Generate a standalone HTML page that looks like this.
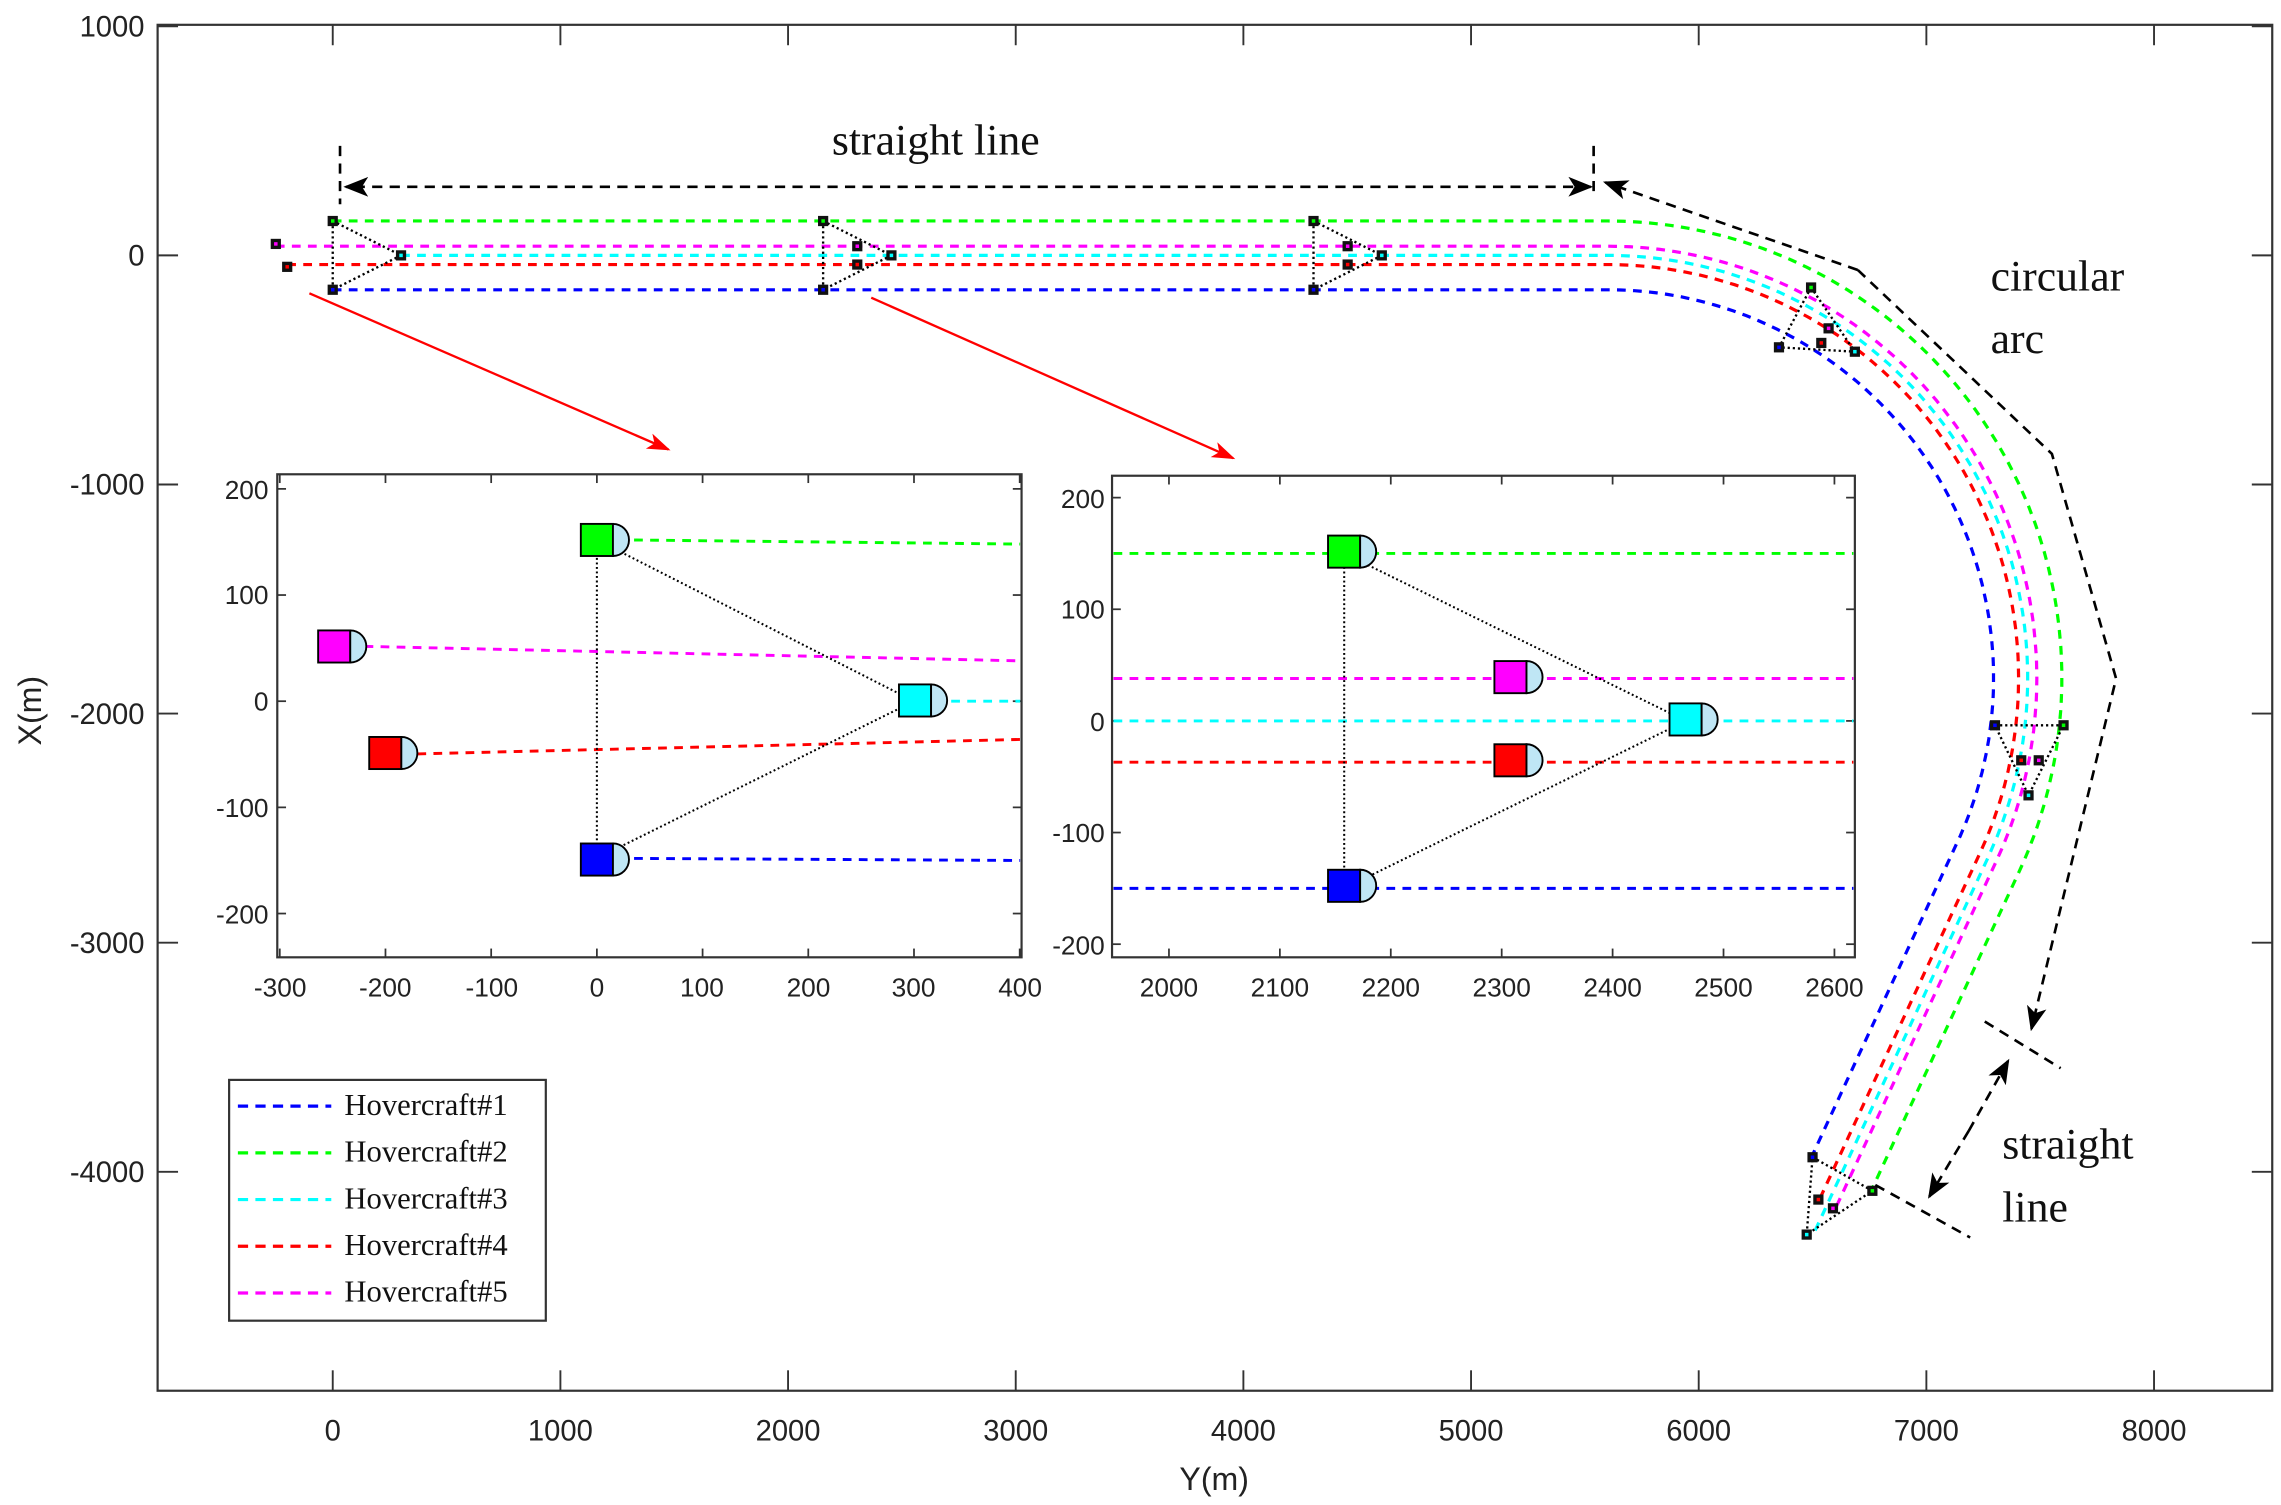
<!DOCTYPE html>
<html><head><meta charset="utf-8"><style>
html,body{margin:0;padding:0;background:#fff;}
svg{display:block;}
.t{font-family:"Liberation Sans",Arial,sans-serif;fill:#222;}
.s{font-family:"Liberation Serif",serif;fill:#111;}
</style></head><body>
<svg id="s" width="2281" height="1505" viewBox="0 0 1563 1031.3" preserveAspectRatio="none" xmlns="http://www.w3.org/2000/svg">
<defs>
<clipPath id="cm"><rect x="108" y="17" width="1449" height="936"/></clipPath>
<marker id="ah" viewBox="0 0 20 20" refX="18" refY="10" markerWidth="17" markerHeight="17" orient="auto-start-reverse" markerUnits="userSpaceOnUse">
<path d="M0,2 L20,10 L0,18 L5,10 Z" fill="#000"/></marker>
<marker id="ra" viewBox="0 0 20 20" refX="18" refY="10" markerWidth="16" markerHeight="16" orient="auto" markerUnits="userSpaceOnUse">
<path d="M0,3 L20,10 L0,17 L5,10 Z" fill="#f00"/></marker>
</defs>
<rect x="108" y="17" width="1449" height="936" fill="#fff" stroke="#333" stroke-width="1.5"/>
<g id="mainticks" stroke="#333" stroke-width="1.3"></g>
<g id="main" clip-path="url(#cm)"></g>
<g id="ann" fill="none" stroke="#000" stroke-width="1.8" stroke-dasharray="7,5">
<line x1="233" y1="100" x2="233" y2="140"/>
<line x1="1092" y1="100" x2="1092" y2="136"/>
<line x1="1090" y1="128" x2="237" y2="128" marker-end="url(#ah)" marker-start="url(#ah)"/>
<polyline points="1273,185 1406,311 1450,465 1392,705" marker-end="url(#ah)"/>
<line x1="1273" y1="185" x2="1100" y2="125" marker-end="url(#ah)"/>
<line x1="1360" y1="700" x2="1412" y2="732"/>
<line x1="1349" y1="775" x2="1376" y2="727" marker-end="url(#ah)"/>
<line x1="1349" y1="775" x2="1322" y2="820" marker-end="url(#ah)"/>
<line x1="1285" y1="812" x2="1350" y2="848"/>
</g>
<line x1="212" y1="201" x2="458" y2="308" stroke="#f00" stroke-width="1.6" marker-end="url(#ra)"/>
<line x1="597" y1="204" x2="845" y2="314" stroke="#f00" stroke-width="1.6" marker-end="url(#ra)"/>
<text class="s" x="570" y="106" font-size="30">straight  line</text>
<text class="s" x="1364" y="199" font-size="30">circular</text>
<text class="s" x="1364" y="242" font-size="30">arc</text>
<text class="s" x="1372" y="794" font-size="30">straight</text>
<text class="s" x="1372" y="837" font-size="30">line</text>
<g class="t" font-size="20" text-anchor="middle">
<text x="228" y="987">0</text><text x="384" y="987">1000</text><text x="540" y="987">2000</text><text x="696" y="987">3000</text><text x="852" y="987">4000</text><text x="1008" y="987">5000</text><text x="1164" y="987">6000</text><text x="1320" y="987">7000</text><text x="1476" y="987">8000</text>
</g>
<g class="t" font-size="20" text-anchor="end">
<text x="99" y="25">1000</text><text x="99" y="182">0</text><text x="99" y="339">-1000</text><text x="99" y="496">-2000</text><text x="99" y="653">-3000</text><text x="99" y="810">-4000</text>
</g>
<text class="t" x="832" y="1021" font-size="22" text-anchor="middle">Y(m)</text>
<text class="t" x="0" y="0" font-size="22" text-anchor="middle" transform="translate(28,487) rotate(-90)">X(m)</text>
<g>
<rect x="157" y="740" width="217" height="165" fill="#fff" stroke="#333" stroke-width="1.5"/>
<g stroke-width="2.2" stroke-dasharray="7,5">
<line x1="163" y1="758" x2="227" y2="758" stroke="#00f"/>
<line x1="163" y1="790" x2="227" y2="790" stroke="#0f0"/>
<line x1="163" y1="822" x2="227" y2="822" stroke="#0ff"/>
<line x1="163" y1="854" x2="227" y2="854" stroke="#f00"/>
<line x1="163" y1="886" x2="227" y2="886" stroke="#f0f"/>
</g>
<g class="s" font-size="21">
<text x="236" y="764">Hovercraft#1</text><text x="236" y="796">Hovercraft#2</text><text x="236" y="828">Hovercraft#3</text><text x="236" y="860">Hovercraft#4</text><text x="236" y="892">Hovercraft#5</text>
</g></g>
<rect x="190" y="325" width="510" height="331" fill="#fff" stroke="#333" stroke-width="1.5"/>
<rect x="762" y="326" width="509" height="330" fill="#fff" stroke="#333" stroke-width="1.5"/>
<g id="ins"></g>
<g class="t" font-size="18" text-anchor="middle">
<text x="192" y="683">-300</text><text x="264" y="683">-200</text><text x="337" y="683">-100</text><text x="409" y="683">0</text><text x="481" y="683">100</text><text x="554" y="683">200</text><text x="626" y="683">300</text><text x="699" y="683">400</text>
<text x="801" y="683">2000</text><text x="877" y="683">2100</text><text x="953" y="683">2200</text><text x="1029" y="683">2300</text><text x="1105" y="683">2400</text><text x="1181" y="683">2500</text><text x="1257" y="683">2600</text>
</g>
<g class="t" font-size="18" text-anchor="end">
<text x="184" y="342">200</text><text x="184" y="414">100</text><text x="184" y="487">0</text><text x="184" y="560">-100</text><text x="184" y="633">-200</text>
<text x="757" y="348">200</text><text x="757" y="424">100</text><text x="757" y="501">0</text><text x="757" y="577">-100</text><text x="757" y="654">-200</text>
</g>
</svg>
<script>
const NS="http://www.w3.org/2000/svg";
function el(p,t,a){const e=document.createElementNS(NS,t);for(const k in a)e.setAttribute(k,a[k]);p.appendChild(e);return e;}
const M=document.getElementById('main'),T=document.getElementById('mainticks'),I=document.getElementById('ins');
const px=Y=>228+Y*0.156, py=X=>175-X*0.157;
for(let v=0;v<=8000;v+=1000){el(T,'line',{x1:px(v),y1:953,x2:px(v),y2:939});el(T,'line',{x1:px(v),y1:17,x2:px(v),y2:31});}
for(let v=1000;v>=-4000;v-=1000){el(T,'line',{x1:108,y1:py(v),x2:122,y2:py(v)});el(T,'line',{x1:1557,y1:py(v),x2:1543,y2:py(v)});}
const C=[5600,-1845],R0=1845,phiE=115*Math.PI/180,u=[Math.cos(phiE),-Math.sin(phiE)];
const S=[[150,'#0f0',0,1536],[40,'#f0f',-250,1678],[0,'#0ff',300,1830],[-40,'#f00',-200,1676],[-150,'#00f',0,1515]];
for(const [d,c,st,L] of S){
 const R=R0+d;let pts=[[st,d],[5600,d]];
 for(let a=1;a<=115;a++){const f=a*Math.PI/180;pts.push([C[0]+R*Math.sin(f),C[1]+R*Math.cos(f)]);}
 const tp=pts[pts.length-1];pts.push([tp[0]+L*u[0],tp[1]+L*u[1]]);
 el(M,'polyline',{points:pts.map(p=>px(p[0]).toFixed(1)+','+py(p[1]).toFixed(1)).join(' '),fill:'none',stroke:c,'stroke-width':2.2,'stroke-dasharray':'6,5'});
}
const dot={stroke:'#000','stroke-width':1.6,'stroke-dasharray':'1.5,2',fill:'none'};
function fm(pts,tri){
 el(M,'polygon',Object.assign({points:tri.map(i=>pts[i][0]+','+pts[i][1]).join(' ')},dot));
 for(const p of pts){el(M,'rect',{x:p[0]-3.5,y:p[1]-3.5,width:7,height:7,fill:'#111'});el(M,'rect',{x:p[0]-1.2,y:p[1]-1.2,width:2.4,height:2.4,fill:p[2]});}
}
for(const Y0 of [0,2154,4308]){
 const g=[px(Y0),py(150),'#0f0'],b=[px(Y0),py(-150),'#00f'],cy=[px(Y0+300),py(0),'#0ff'];
 const m=Y0==0?[px(-250),py(50),'#f0f']:[px(Y0+150),py(40),'#f0f'],r=Y0==0?[px(-200),py(-50),'#f00']:[px(Y0+150),py(-40),'#f00'];
 fm([g,b,cy,m,r],[0,1,2]);
}
fm([[1241,197,'#0f0'],[1219,238,'#00f'],[1271,241,'#0ff'],[1253,225,'#f0f'],[1248,235,'#f00']],[0,1,2]);
fm([[1414,497,'#0f0'],[1367,497,'#00f'],[1390,545,'#0ff'],[1397,521,'#f0f'],[1385,521,'#f00']],[0,1,2]);
fm([[1283,816,'#0f0'],[1242,793,'#00f'],[1238,846,'#0ff'],[1256,828,'#f0f'],[1246,822,'#f00']],[0,1,2]);
const i1x=x=>409+x*0.7243,i1y=y=>480.5-y*0.7275,i2x=x=>801+(x-2000)*0.76,i2y=y=>494-y*0.765;
const tk={stroke:'#333','stroke-width':1.2};
for(let v=-300;v<=400;v+=100){el(I,'line',Object.assign({x1:i1x(v),y1:656,x2:i1x(v),y2:650},tk));el(I,'line',Object.assign({x1:i1x(v),y1:325,x2:i1x(v),y2:331},tk));}
for(let v=-200;v<=200;v+=100){el(I,'line',Object.assign({x1:190,y1:i1y(v),x2:196,y2:i1y(v)},tk));el(I,'line',Object.assign({x1:700,y1:i1y(v),x2:694,y2:i1y(v)},tk));}
for(let v=2000;v<=2600;v+=100){el(I,'line',Object.assign({x1:i2x(v),y1:656,x2:i2x(v),y2:650},tk));el(I,'line',Object.assign({x1:i2x(v),y1:326,x2:i2x(v),y2:332},tk));}
for(let v=-200;v<=200;v+=100){el(I,'line',Object.assign({x1:762,y1:i2y(v),x2:768,y2:i2y(v)},tk));el(I,'line',Object.assign({x1:1271,y1:i2y(v),x2:1265,y2:i2y(v)},tk));}
const dl=(x1,y1,x2,y2,c)=>el(I,'line',{x1,y1,x2,y2,stroke:c,'stroke-width':2,'stroke-dasharray':'6,5'});
dl(i1x(20),i1y(152),699,i1y(148),'#0f0');dl(i1x(-235),i1y(52),699,i1y(38),'#f0f');dl(i1x(320),i1y(0),699,i1y(0),'#0ff');dl(i1x(-185),i1y(-50),699,i1y(-36),'#f00');dl(i1x(20),i1y(-148),699,i1y(-150),'#00f');
for(const [y,c] of [[150,'#0f0'],[38,'#f0f'],[0,'#0ff'],[-37,'#f00'],[-150,'#00f']])dl(763,i2y(y),1270,i2y(y),c);
const dt={stroke:'#000','stroke-width':1.4,'stroke-dasharray':'1.3,1.8',fill:'none'};
el(I,'polygon',Object.assign({points:`${i1x(0)},${i1y(152)} ${i1x(0)},${i1y(-148)} ${i1x(300)},${i1y(0)}`},dt));
el(I,'polygon',Object.assign({points:`${i2x(2158)},${i2y(150)} ${i2x(2158)},${i2y(-150)} ${i2x(2466)},${i2y(0)}`},dt));
function icon(cx,cy,c){el(I,'rect',{x:cx-11,y:cy-11,width:22,height:22,fill:c,stroke:'#000','stroke-width':1.3});
 el(I,'path',{d:`M${cx+11},${cy-11} A11,11 0 0 1 ${cx+11},${cy+11} Z`,fill:'#bfe6f5',stroke:'#000','stroke-width':1.3});}
icon(409,370,'#0f0');icon(409,589,'#00f');icon(229,443,'#f0f');icon(264,516,'#f00');icon(627,480,'#0ff');
icon(921,378,'#0f0');icon(921,607,'#00f');icon(1035,464,'#f0f');icon(1035,521,'#f00');icon(1155,493,'#0ff');
</script>
</body></html>
